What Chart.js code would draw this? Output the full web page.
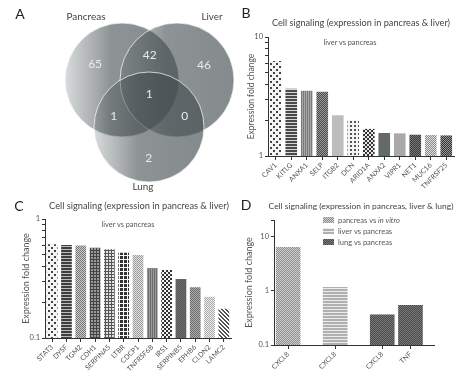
<!DOCTYPE html>
<html><head><meta charset="utf-8">
<script src="https://cdn.jsdelivr.net/npm/chart.js@4.4.1/dist/chart.umd.min.js"></script>
<style>
html,body{margin:0;padding:0;background:#fff;}
body{width:474px;height:392px;position:relative;overflow:hidden;font-family:Lato,"Open Sans",sans-serif;}
canvas{position:absolute;}
.t{position:absolute;white-space:nowrap;line-height:1;transform:translate(-50%,-50%);color:#444;}
</style></head><body>
<canvas id="cA" width="237" height="196" style="left:0;top:0"></canvas>
<canvas id="cB" width="237" height="196" style="left:237px;top:0"></canvas>
<canvas id="cC" width="237" height="196" style="left:0;top:196px"></canvas>
<canvas id="cD" width="237" height="196" style="left:237px;top:196px"></canvas>

<div class="t" style="left:20px;top:14px;font-size:14px;color:#222">A</div>
<div class="t" style="left:246px;top:13px;font-size:14px;color:#222">B</div>
<div class="t" style="left:19px;top:206px;font-size:14px;color:#222">C</div>
<div class="t" style="left:246px;top:205px;font-size:14px;color:#222">D</div>

<div class="t" style="left:86px;top:17px;font-size:10px;color:#444" data-w="39">Pancreas</div>
<div class="t" style="left:212px;top:17px;font-size:10px;color:#444" data-w="21">Liver</div>
<div class="t" style="left:143px;top:187px;font-size:10px;color:#444" data-w="21">Lung</div>

<div class="t" style="left:361px;top:23px;font-size:9.5px;color:#444" data-w="178">Cell signaling (expression in pancreas &amp; liver)</div>
<div class="t" style="left:350px;top:43px;font-size:7px;color:#555" data-w="53">liver vs pancreas</div>
<div class="t" style="left:139px;top:206px;font-size:9.5px;color:#444" data-w="180">Cell signaling (expression in pancreas &amp; liver)</div>
<div class="t" style="left:128px;top:225px;font-size:7px;color:#555" data-w="53">liver vs pancreas</div>
<div class="t" style="left:361px;top:206px;font-size:9.5px;color:#444" data-w="185">Cell signaling (expression in pancreas, liver &amp; lung)</div>

<script>
// ---------------- DATA ----------------
// Panel A: Venn diagram (circle centres/radii in panel coordinates)
const vennSets = ['Pancreas', 'Liver', 'Lung'];
const vennCx = [122, 177, 149];
const vennCy = [80, 80, 127];
const vennR = [57, 57, 55];
const vennOnly = [65, 46, 2];              // Pancreas only, Liver only, Lung only
const vennPairIdx = [[0, 1], [0, 2], [1, 2]];
const vennPairs = [42, 1, 0];              // P∩Li, P∩Lu, Li∩Lu
const vennAll = 1;

// Panel B
const bCategories = ['CAV1','KITLG','ANXA1','SELP','ITGB2','DCN','ARID1A','ANXA2','VIPR1','NET1','MUC16','TNFRSF25'];
const bValues = [6.3, 3.68, 3.54, 3.47, 2.2, 2.0, 1.69, 1.56, 1.55, 1.51, 1.5, 1.49];
const bTicks = [1, 10];

// Panel C
const cCategories = ['STAT3','DYSF','TGM2','CDH1','SERPINA5','LTBR','CDCP1','TNFRSF6B','IRS1','SERPINB5','EPHB6','CLDN2','LAMC2'];
const cValues = [0.613, 0.604, 0.600, 0.574, 0.556, 0.521, 0.498, 0.387, 0.373, 0.313, 0.267, 0.222, 0.176];
const cTicks = [0.1, 1];

// Panel D
const dSeries = ['pancreas vs in vitro', 'liver vs pancreas', 'lung vs pancreas'];
const dGroups = [['CXCL8'], ['CXCL8'], ['CXCL8', 'TNF']];
const dValues = [[6.25], [1.15], [0.36, 0.54]];
const dTicks = [0.1, 1, 10];
const dMax = 20;

// ---------------- STYLE ----------------
const FONT = 'Lato, "Open Sans", sans-serif';
Chart.defaults.font.family = FONT;

function makePattern(spec) {
  const [type, fg, bg] = spec;
  if (type === 'solid') return fg;
  const sizes = {hstripe:3, vstripe:2, fine:2, dots:6, squares:4, bigsq:4, plaid:3, checker:4, diag:4};
  const s = sizes[type];
  const c = document.createElement('canvas'); c.width = c.height = s;
  const g = c.getContext('2d');
  g.fillStyle = bg; g.fillRect(0, 0, s, s); g.fillStyle = fg;
  const px = (x, y, w = 1, h = 1) => g.fillRect(x, y, w, h);
  switch (type) {
    case 'hstripe': px(0, 0, s, 2); break;
    case 'vstripe': px(0, 0, 1, s); break;
    case 'fine': px(0, 0); px(1, 1); break;
    case 'dots': px(0, 0, 2, 2); px(3, 3, 2, 2); break;
    case 'squares': px(1, 1, 2, 2); break;
    case 'bigsq': px(0, 0, 3, 3); break;
    case 'plaid': px(0, 0, s, 1); px(0, 0, 1, s); break;
    case 'checker': px(0, 0, 2, 2); px(2, 2, 2, 2); break;
    case 'diag': for (let i = 0; i < s; i++) { px(i, i, 2, 1); } px(0, s - 1); break;
  }
  return g.createPattern(c, 'repeat');
}

const bStyles = [
  ['dots','#444','#f4f4f4'], ['hstripe','#4a4a4a','#d8d8d8'], ['vstripe','#7a7a7a','#a8a8a8'],
  ['fine','#4a4a4a','#9a9a9a'], ['solid','#bdbdbd'], ['squares','#555','#f4f4f4'],
  ['checker','#333','#e8e8e8'], ['solid','#646969'], ['solid','#a9a9a9'],
  ['fine','#3a3a3a','#7a7a7a'], ['fine','#8a8a8a','#e0e0e0'], ['fine','#333','#999']
];
const cStyles = [
  ['dots','#444','#f4f4f4'], ['hstripe','#3e3e3e','#bdbdbd'], ['fine','#777','#cccccc'],
  ['plaid','#444','#999'], ['plaid','#555','#e0e0e0'], ['bigsq','#333','#fafafa'],
  ['fine','#999','#e4e4e4'], ['vstripe','#6e6e6e','#9a9a9a'], ['checker','#333','#f4f4f4'],
  ['fine','#555','#6e6e6e'], ['fine','#6a6a6a','#b0b0b0'], ['fine','#a8a8a8','#eeeeee'],
  ['diag','#555','#ffffff']
];
const dStyles = [['fine','#8e8e8e','#cfcfcf'], ['hstripe','#b0b0b0','#ececec'], ['fine','#4a4a4a','#7a7a7a']];

// ---------------- HELPERS ----------------
function logTickValues(majors) {
  const out = [];
  for (let i = 0; i < majors.length - 1; i++) {
    for (let m = 1; m < 10; m++) out.push(majors[i] * m);
  }
  out.push(majors[majors.length - 1]);
  return out;
}

function barChart(id, labels, datasets, o) {
  return new Chart(document.getElementById(id), {
    type: 'bar',
    data: { labels, datasets },
    plugins: o.plugins || [],
    options: {
      responsive: false, animation: false, events: [],
      layout: { padding: { top: o.top, right: o.right, left: 0, bottom: 0 } },
      plugins: { legend: { display: false }, tooltip: { enabled: false } },
      datasets: { bar: { categoryPercentage: 1, barPercentage: o.barPct || 0.75, barThickness: o.barThickness, grouped: false, skipNull: true } },
      scales: {
        x: {
          grid: { display: true, drawOnChartArea: false, drawTicks: true, tickLength: 4, offset: false, color: '#333' },
          border: { display: true, color: '#333', width: 1 },
          ticks: { autoSkip: false, minRotation: 45, maxRotation: 45, padding: 1, font: { size: 7 }, color: '#555' },
          afterBuildTicks: o.xFilter ? (s) => { s.ticks = s.ticks.filter(t => labels[t.value] !== ''); } : undefined,
          afterFit(s) { s.height = o.xh; }
        },
        y: {
          type: 'logarithmic', min: o.min, max: o.max,
          grid: { drawOnChartArea: false, tickLength: 3, color: '#333' },
          border: { display: true, color: '#333', width: 1 },
          ticks: { autoSkip: false, padding: 2, font: { size: 7.5 }, color: '#555',
                   callback: (v) => o.majors.includes(v) ? String(v) : '' },
          afterBuildTicks(s) { s.ticks = o.tickVals.map(v => ({ value: v })); },
          title: { display: true, text: 'Expression fold change', font: { size: o.titleSize }, color: '#555',
                   padding: { top: o.titlePad, bottom: 0 } },
          afterFit(s) { s.width = o.yw; }
        }
      }
    }
  });
}

// ---------------- PANEL A ----------------
const vennLabelPlugin = {
  id: 'vennLabels',
  afterDatasetsDraw(chart) {
    const { ctx, scales: { x, y } } = chart;
    const P = vennCx.map((cx, i) => ({ x: x.getPixelForValue(cx), y: y.getPixelForValue(vennCy[i]) }));
    const mid = (a, b) => ({ x: (a.x + b.x) / 2, y: (a.y + b.y) / 2 });
    const push = (p, from, k) => { const dx = p.x - from.x, dy = p.y - from.y, d = Math.hypot(dx, dy) || 1; return { x: p.x + dx / d * k, y: p.y + dy / d * k }; };
    ctx.save();
    ctx.fillStyle = '#e8ecec'; ctx.font = '12px ' + FONT; ctx.textAlign = 'center'; ctx.textBaseline = 'middle';
    vennOnly.forEach((n, i) => {
      const o = [0, 1, 2].filter(j => j !== i);
      const q = push(P[i], mid(P[o[0]], P[o[1]]), 31);
      ctx.fillText(String(n), q.x, q.y);
    });
    vennPairIdx.forEach(([i, j], k) => {
      const q = push(mid(P[i], P[j]), P[3 - i - j], 25);
      ctx.fillText(String(vennPairs[k]), q.x, q.y);
    });
    ctx.fillText(String(vennAll), (P[0].x + P[1].x + P[2].x) / 3, (P[0].y + P[1].y + P[2].y) / 3 - 2);
    ctx.restore();
  }
};

new Chart(document.getElementById('cA'), {
  type: 'bubble',
  data: {
    datasets: [{
      label: 'Venn',
      clip: false,
      data: vennSets.map((s, i) => ({ x: vennCx[i], y: vennCy[i], r: vennR[i] })),
      backgroundColor(ctx) {
        const fallback = 'rgba(66,76,78,0.6)';
        const chart = ctx.chart; const xs = chart.scales && chart.scales.x;
        if (!xs || ctx.type !== 'data') return fallback;
        const i = ctx.dataIndex; const cx = xs.getPixelForValue(vennCx[i]); const r = vennR[i];
        if (!isFinite(cx) || !isFinite(r)) return fallback;
        const g = chart.ctx.createLinearGradient(cx - r, 0, cx + r, 0);
        g.addColorStop(0, 'rgba(66,76,78,0.2)');
        g.addColorStop(0.4, 'rgba(66,76,78,0.6)');
        g.addColorStop(1, 'rgba(66,76,78,0.65)');
        return g;
      },
      borderColor: 'rgba(255,255,255,0.7)', borderWidth: 1
    }]
  },
  plugins: [vennLabelPlugin],
  options: {
    responsive: false, animation: false, events: [],
    layout: { padding: 0, autoPadding: false },
    plugins: { legend: { display: false }, tooltip: { enabled: false } },
    scales: {
      x: { type: 'linear', min: 0, max: 237, display: false },
      y: { type: 'linear', min: 0, max: 196, reverse: true, display: false }
    }
  }
});

// ---------------- PANEL B ----------------
barChart('cB', bCategories, [{ label: 'liver vs pancreas', data: bValues, backgroundColor: bStyles.map(makePattern) }], {
  top: 37, right: 20, xh: 40, yw: 31, min: 1, max: 10, majors: bTicks, tickVals: logTickValues(bTicks),
  titleSize: 8.5, titlePad: 9, barPct: 0.75
});

// ---------------- PANEL C ----------------
barChart('cC', cCategories, [{ label: 'liver vs pancreas', data: cValues, backgroundColor: cStyles.map(makePattern) }], {
  top: 23, right: 6, xh: 54, yw: 45, min: 0.1, max: 1, majors: cTicks, tickVals: logTickValues(cTicks),
  titleSize: 9, titlePad: 21, barPct: 0.75
});

// ---------------- PANEL D ----------------
// spaced category axis: each bar takes 3 slots (label in the middle), groups separated by 2 empty slots
const dLabels = []; const dData = dSeries.map(() => []);
dGroups.forEach((grp, gi) => {
  if (gi > 0) { dLabels.push('', ''); }
  grp.forEach((cat) => { dLabels.push('', cat, ''); });
});
dLabels.push('');
let slot = 0;
dGroups.forEach((grp, gi) => {
  if (gi > 0) slot += 2;
  grp.forEach((cat, k) => { dData.forEach((arr, si) => { arr[slot + 1] = (si === gi) ? dValues[gi][k] : null; }); slot += 3; });
});
dData.forEach(arr => { for (let i = 0; i < dLabels.length; i++) if (arr[i] === undefined) arr[i] = null; });

const dLegendPlugin = {
  id: 'dLegend',
  afterDraw(chart) {
    const { ctx, chartArea: a } = chart;
    ctx.save();
    ctx.textBaseline = 'middle'; ctx.textAlign = 'left';
    chart.data.datasets.forEach((ds, i) => {
      const cy = a.top + i * 11;
      ctx.fillStyle = ds.backgroundColor;
      ctx.fillRect(a.left + 49, cy - 3, 11, 6);
      ctx.fillStyle = '#555';
      let x = a.left + 64;
      const parts = ds.label.split(/(in vitro)/).filter(Boolean);
      parts.forEach(p => {
        ctx.font = (p === 'in vitro' ? 'italic ' : '') + '7.5px ' + FONT;
        ctx.fillText(p, x, cy + 0.5);
        x += ctx.measureText(p).width;
      });
    });
    ctx.restore();
  }
};

barChart('cD', dLabels, dSeries.map((s, i) => ({ label: s, data: dData[i], backgroundColor: makePattern(dStyles[i]) })), {
  top: 24, right: 40, xh: 47, yw: 37, min: 0.1, max: dMax, majors: dTicks, tickVals: dTicks.concat([dMax]),
  titleSize: 9, titlePad: 7, barThickness: 24, xFilter: true, plugins: [dLegendPlugin]
});

// fit HTML text widths
document.querySelectorAll('[data-w]').forEach(el => {
  const w = +el.dataset.w; const fs = parseFloat(el.style.fontSize);
  const cw = el.getBoundingClientRect().width;
  if (cw > 0) el.style.fontSize = (fs * w / cw).toFixed(2) + 'px';
});
</script>
</body></html>
